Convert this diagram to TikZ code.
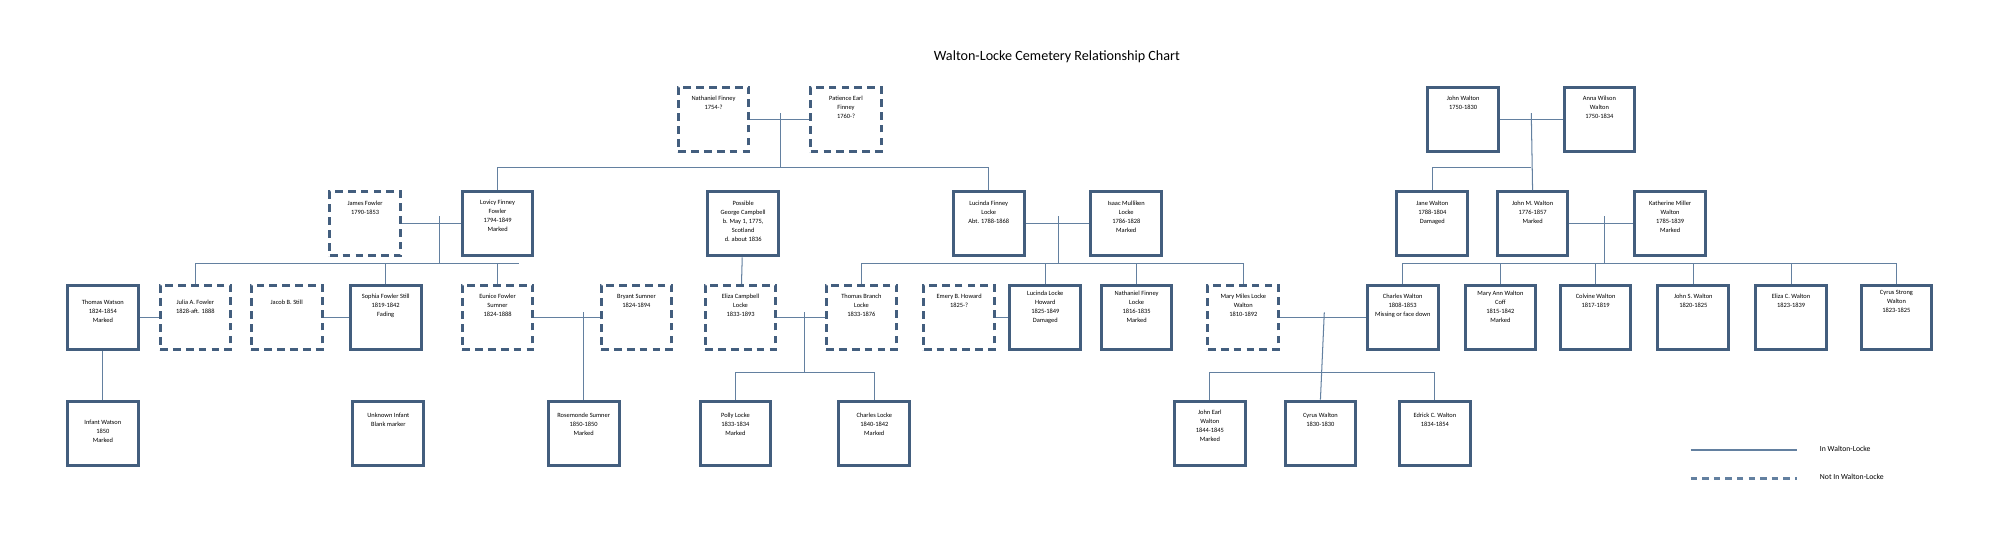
\documentclass[tikz,border=0pt]{standalone}
\usepackage{fontspec}
\setmainfont{Carlito}
\definecolor{boxc}{HTML}{435E7E}
\definecolor{linec}{HTML}{6380A0}
\begin{document}
\begin{tikzpicture}[x=1pt,y=-1pt,
  box/.style={draw=boxc,line width=2.4pt,minimum width=55pt,minimum height=50pt,inner sep=0pt,font=\fontsize{5}{7}\selectfont},
  notin/.style={box,dash pattern=on 6pt off 4pt},
  conn/.style={draw=linec,line width=0.8pt}]
\useasboundingbox (0,0) rectangle (1568,420);
\newcommand\pbox[1]{\parbox[c][46pt][t]{54pt}{\centering\vspace{5pt}#1}}
\node[font=\fontsize{11}{13}\selectfont] (title) at (822,44) {Walton-Locke Cemetery Relationship Chart};
% row 1
\node[notin] (nf) at (555,93) {\pbox{Nathaniel Finney\\1754-?}};
\node[notin] (pe) at (658,93) {\pbox{Patience Earl\\Finney\\1760-?}};
\node[box] (jw) at (1138,93) {\pbox{John Walton\\1750-1830}};
\node[box] (aw) at (1244,93) {\pbox{Anna Wilson\\Walton\\1750-1834}};
% row 2
\node[notin] (jf) at (284,174) {\pbox{James Fowler\\1790-1853}};
\node[box] (lf) at (387,174) {\pbox{Lovicy Finney\\Fowler\\1794-1849\\Marked}};
\node[box] (gc) at (578,174) {\pbox{Possible\\George Campbell\\b. May 1, 1775,\\Scotland\\d. about 1836}};
\node[box] (lfl) at (769,174) {\pbox{Lucinda Finney\\Locke\\Abt. 1788-1868}};
\node[box] (im) at (876,174) {\pbox{Isaac Mulliken\\Locke\\1786-1828\\Marked}};
\node[box] (jane) at (1114,174) {\pbox{Jane Walton\\1788-1804\\Damaged}};
\node[box] (jmw) at (1192,174) {\pbox{John M. Walton\\1776-1857\\Marked}};
\node[box] (kmw) at (1299,174) {\pbox{Katherine Miller\\Walton\\1785-1839\\Marked}};
% row 3
\node[box] (tw) at (80,247) {\pbox{\vspace{4pt}Thomas Watson\\1824-1854\\Marked}};
\node[notin] (jaf) at (152,247) {\pbox{\vspace{4pt}Julia A. Fowler\\1828-aft. 1888}};
\node[notin] (jbs) at (223,247) {\pbox{\vspace{4pt}Jacob B. Still}};
\node[box] (sfs) at (300,247) {\pbox{Sophia Fowler Still\\1819-1842\\Fading}};
\node[notin] (efs) at (387,247) {\pbox{Eunice Fowler\\Sumner\\1824-1888}};
\node[notin] (bs) at (495,247) {\pbox{Bryant Sumner\\1824-1894}};
\node[notin] (ecl) at (576,247) {\pbox{Eliza Campbell\\Locke\\1833-1893}};
\node[notin] (tbl) at (670,247) {\pbox{Thomas Branch\\Locke\\1833-1876}};
\node[notin] (ebh) at (746,247) {\pbox{Emery B. Howard\\1825-?}};
\node[box] (llh) at (813,247) {\pbox{\vspace{-3pt}Lucinda Locke\\Howard\\1825-1849\\Damaged}};
\node[box] (nfl) at (884,247) {\pbox{\vspace{-3pt}Nathaniel Finney\\Locke\\1816-1835\\Marked}};
\node[notin] (mml) at (967,247) {\pbox{Mary Miles Locke\\Walton\\1810-1892}};
\node[box] (cw) at (1091,247) {\pbox{Charles Walton\\1808-1853\\Missing or face down}};
\node[box] (maw) at (1167,247) {\pbox{\vspace{-3pt}Mary Ann Walton\\Coff\\1815-1842\\Marked}};
\node[box] (colw) at (1241,247) {\pbox{Colvine Walton\\1817-1819}};
\node[box] (jsw) at (1317,247) {\pbox{John S. Walton\\1820-1825}};
\node[box] (ecw) at (1393,247) {\pbox{Eliza C. Walton\\1823-1839}};
\node[box] (csw) at (1475,247) {\pbox{\vspace{-3pt}Cyrus Strong\\Walton\\1823-1825}};
% row 4
\node[box] (iw) at (80,337) {\pbox{\vspace{8pt}Infant Watson\\1850\\Marked}};
\node[box] (ui) at (302,337) {\pbox{\vspace{2pt}Unknown Infant\\Blank marker}};
\node[box] (rs) at (454,337) {\pbox{\vspace{2pt}Rosemonde Sumner\\1850-1850\\Marked}};
\node[box] (pl) at (572,337) {\pbox{\vspace{2pt}Polly Locke\\1833-1834\\Marked}};
\node[box] (chl) at (680,337) {\pbox{\vspace{2pt}Charles Locke\\1840-1842\\Marked}};
\node[box] (jew) at (941,337) {\pbox{John Earl\\Walton\\1844-1845\\Marked}};
\node[box] (cyw) at (1027,337) {\pbox{\vspace{2pt}Cyrus Walton\\1830-1830}};
\node[box] (edw) at (1116,337) {\pbox{\vspace{2pt}Edrick C. Walton\\1834-1854}};
% couples
\draw[conn] (nf) -- (pe);
\draw[conn] (jw) -- (aw);
\draw[conn] (jf) -- (lf);
\draw[conn] (lfl) -- (im);
\draw[conn] (jmw) -- (kmw);
\draw[conn] (tw) -- (jaf);
\draw[conn] (jbs) -- (sfs);
\draw[conn] (efs) -- (bs);
\draw[conn] (ecl) -- (tbl);
\draw[conn] (ebh) -- (llh);
\draw[conn] (mml) -- (cw);
% Finney children
\coordinate (a1) at (607,88); \coordinate (a2) at (607,130);
\draw[conn] (a1) -- (a2);
\draw[conn] (lf.north) |- (a2) -| (lfl.north);
% Walton children
\coordinate (b1) at (1191,88); \coordinate (b2) at (1191,130);
\draw[conn] (b1) -- (jmw.north);
\draw[conn] (jane.north) |- (b2);
% Fowler children
\coordinate (c1) at (342,168); \coordinate (c2) at (342,205); \coordinate (c3) at (404,205);
\draw[conn] (c1) -- (c2);
\draw[conn] (jaf.north) |- (c3);
\draw[conn] (sfs.north) -- (sfs.north |- c2);
\draw[conn] (efs.north) -- (efs.north |- c2);
% Campbell
\draw[conn] (gc) -- (ecl);
% Sumner
\coordinate (d1) at (454,243);
\draw[conn] (d1) -- (rs.north);
% Thomas Branch Locke children
\coordinate (e1) at (626,243); \coordinate (e2) at (626,290);
\draw[conn] (e1) -- (e2);
\draw[conn] (pl.north) |- (e2) -| (chl.north);
% Isaac Locke children
\coordinate (f1) at (823,168); \coordinate (f2) at (823,205);
\draw[conn] (f1) -- (f2);
\draw[conn] (tbl.north) |- (f2) -| (mml.north);
\draw[conn] (llh.north) -- (llh.north |- f2);
\draw[conn] (nfl.north) -- (nfl.north |- f2);
% Charles Walton children
\coordinate (g1) at (1030,243); \coordinate (g2) at (1030,290);
\draw[conn] (g1) -- (cyw.north);
\draw[conn] (jew.north) |- (g2) -| (edw.north);
% John M. Walton children
\coordinate (h1) at (1248,168); \coordinate (h2) at (1248,205);
\draw[conn] (h1) -- (h2);
\draw[conn] (cw.north) |- (h2) -| (csw.north);
\foreach \n in {maw,colw,jsw,ecw} \draw[conn] (\n.north) -- (\n.north |- h2);
% Watson
\draw[conn] (tw) -- (iw);
% legend
\coordinate (l1) at (1315,350); \coordinate (l2) at (1398,350);
\coordinate (l3) at (1315,372); \coordinate (l4) at (1398,372);
\draw[draw=linec,line width=2.2pt] (l1) -- (l2);
\draw[draw=linec,line width=2.2pt,dash pattern=on 5pt off 4pt] (l3) -- (l4);
\node[anchor=west,font=\fontsize{6}{7}\selectfont] (lt1) at (1412,349) {In Walton-Locke};
\node[anchor=west,font=\fontsize{6}{7}\selectfont] (lt2) at (1412,371) {Not In Walton-Locke};
\end{tikzpicture}
\end{document}
